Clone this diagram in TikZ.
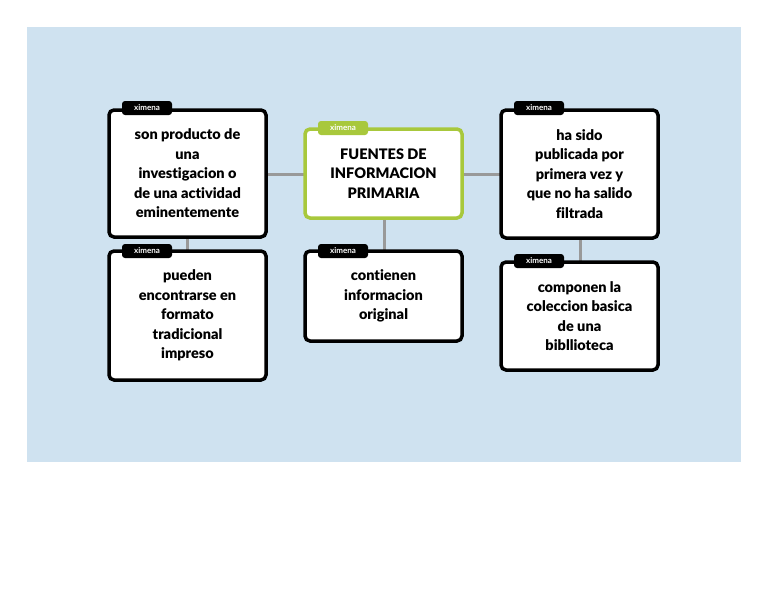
\documentclass[tikz,border=0pt]{standalone}
\usepackage{fontspec}
\setmainfont[Ligatures={NoCommon,NoRequired,NoContextual}]{Lato}
\newfontfamily\boxfont[Ligatures={NoCommon,NoRequired,NoContextual}]{Lato Black}
\begin{document}
\begin{tikzpicture}[x=1pt,y=-1pt,
  box/.style={draw=black,line width=3.5pt,rounded corners=5pt,fill=white,inner sep=0pt,align=center,font=\boxfont\fontsize{14.5}{19.5}\selectfont},
  tag/.style={fill=black,text=white,rounded corners=3pt,minimum width=50pt,minimum height=14pt,inner sep=0pt,font=\bfseries\fontsize{8}{8}\selectfont},
  link/.style={draw=gray!80,line width=3pt}]
\useasboundingbox (0,0) rectangle (768,594);
\fill[fill={rgb,255:red,207;green,226;blue,240}] (27,27) rectangle (741,462);
\coordinate (l1a) at (266,174); \coordinate (ca) at (305,174);
\coordinate (cb) at (462,174); \coordinate (r1a) at (501,174);
\draw[link] (l1a) -- (ca); \draw[link] (cb) -- (r1a);
\coordinate (l1b) at (187,237); \coordinate (l2b) at (187,251); \draw[link] (l1b) -- (l2b);
\coordinate (cc) at (384,218); \coordinate (c2b) at (384,251); \draw[link] (cc) -- (c2b);
\coordinate (r1b) at (580,238); \coordinate (r2b) at (580,262); \draw[link] (r1b) -- (r2b);
\node[box,minimum width=157pt,minimum height=127pt] (L1) at (187.5,173.5) {son producto de\\una\\investigacion o\\de una actividad\\eminentemente};
\node[box,minimum width=157pt,minimum height=129pt] (L2) at (187.5,315.5) {pueden\\encontrarse en\\formato\\tradicional\\impreso};
\node[box,draw={rgb,255:red,168;green,200;blue,60},minimum width=157pt,minimum height=89pt] (C) at (383.5,173.5) {FUENTES DE\\INFORMACION\\PRIMARIA};
\node[box,minimum width=157pt,minimum height=90pt] (C2) at (383.5,296) {contienen\\informacion\\original};
\node[box,minimum width=157pt,minimum height=128pt] (R1) at (579.5,174) {ha sido\\publicada por\\primera vez y\\que no ha salido\\filtrada};
\node[box,minimum width=157pt,minimum height=108pt] (R2) at (579.5,316) {componen la\\coleccion basica\\de una\\bibllioteca};
\node[tag] (t1) at (147,108) {ximena};
\node[tag] (t2) at (147,251) {ximena};
\node[tag,fill={rgb,255:red,168;green,200;blue,60}] (t3) at (343,128) {ximena};
\node[tag] (t4) at (343,251) {ximena};
\node[tag] (t5) at (539,108) {ximena};
\node[tag] (t6) at (539,261) {ximena};
\end{tikzpicture}
\end{document}
